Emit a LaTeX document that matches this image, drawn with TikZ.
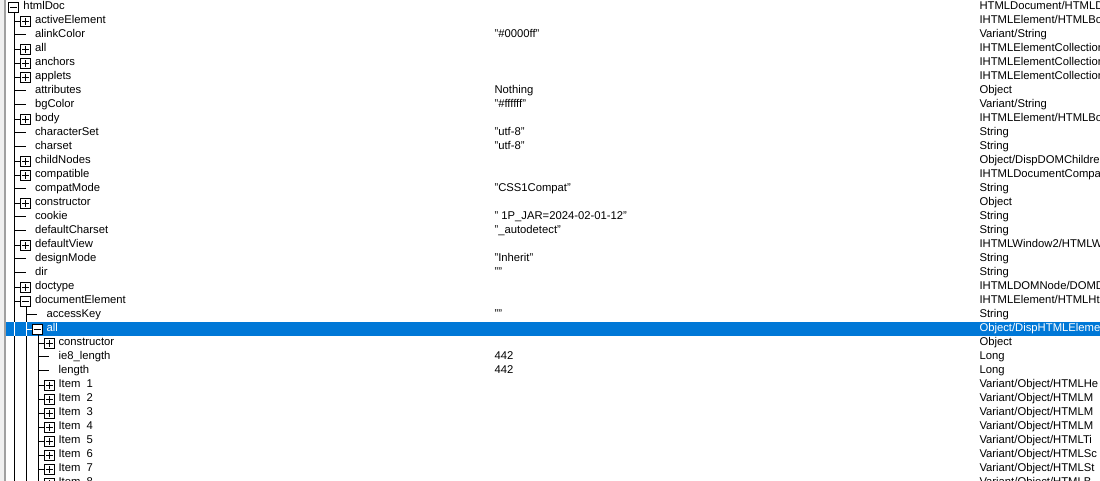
\documentclass[tikz,border=0pt]{standalone}
\usepackage{fontspec}
\setmainfont{Liberation Sans}
\definecolor{selblue}{HTML}{0078D7}
\definecolor{edgegray}{HTML}{A0A0A0}
\definecolor{sidegray}{HTML}{F0F0F0}

\begin{document}
\begin{tikzpicture}[x=0.75pt,y=-0.75pt,line width=0.75pt]
            \useasboundingbox (0,0) rectangle (1100,481);
            \clip (0,0) rectangle (1100,481);
            \tikzset{rowtext/.style={anchor=west,inner sep=0pt,yshift=-0.375pt,text height=6.6pt,text depth=1.4pt,font=\fontsize{8.45pt}{10pt}\selectfont}}
            \tikzset{treebox/.style={draw,fill=white,minimum size=7.5pt,inner sep=0pt,yshift=-1.125pt,line width=0.75pt}}
            \tikzset{treeline/.style={draw,line width=0.75pt}}
            \tikzset{leafstem/.style={treeline,shorten >=6.4pt}}
            \tikzset{plusbox/.style={treebox,path picture={\draw ([xshift=-2.6pt]path picture bounding box.center) -- ([xshift=2.6pt]path picture bounding box.center);
                \draw ([yshift=-2.6pt]path picture bounding box.center) -- ([yshift=2.6pt]path picture bounding box.center);}}}
            \tikzset{minusbox/.style={treebox,path picture={\draw ([xshift=-2.6pt]path picture bounding box.center) -- ([xshift=2.6pt]path picture bounding box.center);}}}
            % selected row and left border
            \fill[sidegray] (0,0) rectangle (4,481);
            \fill[edgegray] (4,0) rectangle (6,481);
            \fill[selblue] (6,322) rectangle (1100,336);
            \coordinate (seltop) at (0,322);
            \coordinate (selbot) at (0,336);
            % root
            \node[rowtext]  (htmldoc) at (23,6) {htmlDoc};
            \node[minusbox] (rootbox) at (13.5,6) {};
            \node[rowtext]  (htmldoct) at (979,6) {HTMLDocument/HTMLD};
            % first level, names
            \node[rowtext] (active) at (34.5,20) {activeElement};
            \node[rowtext] (alink) at (34.5,34) {alinkColor};
            \node[rowtext] (allone) at (34.5,48) {all};
            \node[rowtext] (anchors) at (34.5,62) {anchors};
            \node[rowtext] (applets) at (34.5,76) {applets};
            \node[rowtext] (attrs) at (34.5,90) {attributes};
            \node[rowtext] (bgcolor) at (34.5,104) {bgColor};
            \node[rowtext] (body) at (34.5,118) {body};
            \node[rowtext] (charset) at (34.5,132) {characterSet};
            \node[rowtext] (charsetb) at (34.5,146) {charset};
            \node[rowtext] (child) at (34.5,160) {childNodes};
            \node[rowtext] (compat) at (34.5,174) {compatible};
            \node[rowtext] (compatm) at (34.5,188) {compatMode};
            \node[rowtext] (ctor) at (34.5,202) {constructor};
            \node[rowtext] (cookie) at (34.5,216) {cookie};
            \node[rowtext] (defchar) at (34.5,230) {defaultCharset};
            \node[rowtext] (defview) at (34.5,244) {defaultView};
            \node[rowtext] (design) at (34.5,258) {designMode};
            \node[rowtext] (dir) at (34.5,272) {dir};
            \node[rowtext] (doctype) at (34.5,286) {doctype};
            \node[rowtext] (docel) at (34.5,300) {documentElement};
            % second level, names
            \node[rowtext] (access) at (46,314) {accessKey};
            \node[rowtext,text=white] (alltwo) at (46,328) {all};
            % third level, names
            \node[rowtext] (ctorb) at (58,342) {constructor};
            \node[rowtext] (ielen) at (58,356) {ie8\_length};
            \node[rowtext] (len) at (58,370) {length};
            \node[rowtext] (itema) at (58,384) {Item\ \ 1};
            \node[rowtext] (itemb) at (58,398) {Item\ \ 2};
            \node[rowtext] (itemc) at (58,412) {Item\ \ 3};
            \node[rowtext] (itemd) at (58,426) {Item\ \ 4};
            \node[rowtext] (iteme) at (58,440) {Item\ \ 5};
            \node[rowtext] (itemf) at (58,454) {Item\ \ 6};
            \node[rowtext] (itemg) at (58,468) {Item\ \ 7};
            \node[rowtext] (itemh) at (58,482) {Item\ \ 8};
            % values
            \node[rowtext] (alinkv) at (494,34) {"\#0000ff"};
            \node[rowtext] (attrsv) at (494,90) {Nothing};
            \node[rowtext] (bgcolorv) at (494,104) {"\#ffffff"};
            \node[rowtext] (charsetv) at (494,132) {"utf-8"};
            \node[rowtext] (charsetbv) at (494,146) {"utf-8"};
            \node[rowtext] (compatmv) at (494,188) {"CSS1Compat"};
            \node[rowtext] (cookiev) at (494,216) {" 1P\_JAR=2024-02-01-12"};
            \node[rowtext] (defcharv) at (494,230) {"\_autodetect"};
            \node[rowtext] (designv) at (494,258) {"Inherit"};
            \node[rowtext] (dirv) at (494,272) {""};
            \node[rowtext] (accessv) at (494,314) {""};
            \node[rowtext] (ielenv) at (494,356) {442};
            \node[rowtext] (lenv) at (494,370) {442};
            % types
            \node[rowtext] (activet) at (979,20) {IHTMLElement/HTMLBo};
            \node[rowtext] (alinkt) at (979,34) {Variant/String};
            \node[rowtext] (allonet) at (979,48) {IHTMLElementCollection};
            \node[rowtext] (anchorst) at (979,62) {IHTMLElementCollection};
            \node[rowtext] (appletst) at (979,76) {IHTMLElementCollection};
            \node[rowtext] (attrst) at (979,90) {Object};
            \node[rowtext] (bgcolort) at (979,104) {Variant/String};
            \node[rowtext] (bodyt) at (979,118) {IHTMLElement/HTMLBo};
            \node[rowtext] (charsett) at (979,132) {String};
            \node[rowtext] (charsetbt) at (979,146) {String};
            \node[rowtext] (childt) at (979,160) {Object/DispDOMChildre};
            \node[rowtext] (compatt) at (979,174) {IHTMLDocumentCompat};
            \node[rowtext] (compatmt) at (979,188) {String};
            \node[rowtext] (ctort) at (979,202) {Object};
            \node[rowtext] (cookiet) at (979,216) {String};
            \node[rowtext] (defchart) at (979,230) {String};
            \node[rowtext] (defviewt) at (979,244) {IHTMLWindow2/HTMLW};
            \node[rowtext] (designt) at (979,258) {String};
            \node[rowtext] (dirt) at (979,272) {String};
            \node[rowtext] (doctypet) at (979,286) {IHTMLDOMNode/DOMD};
            \node[rowtext] (docelt) at (979,300) {IHTMLElement/HTMLHt};
            \node[rowtext] (accesst) at (979,314) {String};
            \node[rowtext,text=white] (alltwot) at (979,328) {Object/DispHTMLEleme};
            \node[rowtext] (ctorbt) at (979,342) {Object};
            \node[rowtext] (ielent) at (979,356) {Long};
            \node[rowtext] (lent) at (979,370) {Long};
            \node[rowtext] (itemat) at (979,384) {Variant/Object/HTMLHe};
            \node[rowtext] (itembt) at (979,398) {Variant/Object/HTMLM};
            \node[rowtext] (itemct) at (979,412) {Variant/Object/HTMLM};
            \node[rowtext] (itemdt) at (979,426) {Variant/Object/HTMLM};
            \node[rowtext] (itemet) at (979,440) {Variant/Object/HTMLTi};
            \node[rowtext] (itemft) at (979,454) {Variant/Object/HTMLSc};
            \node[rowtext] (itemgt) at (979,468) {Variant/Object/HTMLSt};
            \node[rowtext] (itemht) at (979,482) {Variant/Object/HTMLB};
            % boxes
            \node[plusbox] (activebox) at (25.5,20) {};
            \node[plusbox] (allonebox) at (25.5,48) {};
            \node[plusbox] (anchorsbox) at (25.5,62) {};
            \node[plusbox] (appletsbox) at (25.5,76) {};
            \node[plusbox] (bodybox) at (25.5,118) {};
            \node[plusbox] (childbox) at (25.5,160) {};
            \node[plusbox] (compatbox) at (25.5,174) {};
            \node[plusbox] (ctorbox) at (25.5,202) {};
            \node[plusbox] (defviewbox) at (25.5,244) {};
            \node[plusbox] (doctypebox) at (25.5,286) {};
            \node[minusbox] (docelbox) at (25.5,300) {};
            \node[minusbox] (alltwobox) at (37.5,328) {};
            \node[plusbox] (ctorbbox) at (49.5,342) {};
            \node[plusbox] (itemabox) at (49.5,384) {};
            \node[plusbox] (itembbox) at (49.5,398) {};
            \node[plusbox] (itemcbox) at (49.5,412) {};
            \node[plusbox] (itemdbox) at (49.5,426) {};
            \node[plusbox] (itemebox) at (49.5,440) {};
            \node[plusbox] (itemfbox) at (49.5,454) {};
            \node[plusbox] (itemgbox) at (49.5,468) {};
            \node[plusbox] (itemhbox) at (49.5,482) {};
            % spines
            \coordinate (spinea) at (14.5,490);
            \coordinate (spineb) at (26.5,490);
            \coordinate (spinec) at (38.5,490);
            \path (rootbox.south -| spinea) edge [treeline] (spinea);
            \path (docelbox.south -| spineb) edge [treeline] (spineb);
            \path (alltwobox.south -| spinec) edge [treeline] (spinec);
            \path (spinea |- seltop) edge [treeline,white] (spinea |- selbot);
            \path (spineb |- seltop) edge [treeline,white] (spineb |- selbot);
            % leaf stems
            \path (spinea |- alink) edge [leafstem] (alink);
            \path (spinea |- attrs) edge [leafstem] (attrs);
            \path (spinea |- bgcolor) edge [leafstem] (bgcolor);
            \path (spinea |- charset) edge [leafstem] (charset);
            \path (spinea |- charsetb) edge [leafstem] (charsetb);
            \path (spinea |- compatm) edge [leafstem] (compatm);
            \path (spinea |- cookie) edge [leafstem] (cookie);
            \path (spinea |- defchar) edge [leafstem] (defchar);
            \path (spinea |- design) edge [leafstem] (design);
            \path (spinea |- dir) edge [leafstem] (dir);
            \path (spineb |- access) edge [leafstem] (access);
            \path (spinec |- ielen) edge [leafstem] (ielen);
            \path (spinec |- len) edge [leafstem] (len);
            % stems to the boxes
            \path (spinea |- activebox) edge [treeline] (activebox);
            \path (spinea |- allonebox) edge [treeline] (allonebox);
            \path (spinea |- anchorsbox) edge [treeline] (anchorsbox);
            \path (spinea |- appletsbox) edge [treeline] (appletsbox);
            \path (spinea |- bodybox) edge [treeline] (bodybox);
            \path (spinea |- childbox) edge [treeline] (childbox);
            \path (spinea |- compatbox) edge [treeline] (compatbox);
            \path (spinea |- ctorbox) edge [treeline] (ctorbox);
            \path (spinea |- defviewbox) edge [treeline] (defviewbox);
            \path (spinea |- doctypebox) edge [treeline] (doctypebox);
            \path (spinea |- docelbox) edge [treeline] (docelbox);
            \path (spineb |- alltwobox) edge [treeline,white] (alltwobox);
            \path (spinec |- ctorbbox) edge [treeline] (ctorbbox);
            \path (spinec |- itemabox) edge [treeline] (itemabox);
            \path (spinec |- itembbox) edge [treeline] (itembbox);
            \path (spinec |- itemcbox) edge [treeline] (itemcbox);
            \path (spinec |- itemdbox) edge [treeline] (itemdbox);
            \path (spinec |- itemebox) edge [treeline] (itemebox);
            \path (spinec |- itemfbox) edge [treeline] (itemfbox);
            \path (spinec |- itemgbox) edge [treeline] (itemgbox);
            \path (spinec |- itemhbox) edge [treeline] (itemhbox);
        \end{tikzpicture}
\end{document}
